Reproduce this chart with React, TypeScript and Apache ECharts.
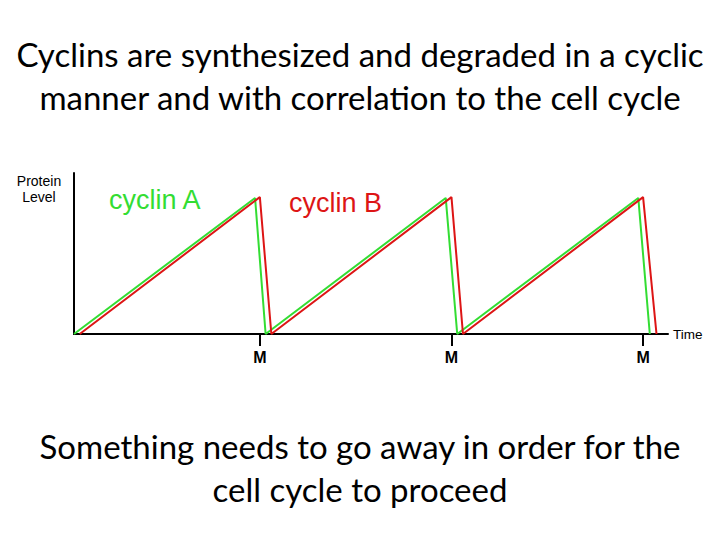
import React, { useEffect, useRef } from "react";
import * as echarts from "echarts";

// Time positions (arbitrary units, one cell cycle = 10) and protein levels
const cyclinATime = [0, 9.45, 10.0, 19.4, 20.0, 29.45, 30.05];
const cyclinALevel = [0, 8.45, 0, 8.45, 0, 8.45, 0];
const cyclinBTime = [0.3, 9.7, 10.3, 19.7, 20.3, 29.7, 30.4];
const cyclinBLevel = [0, 8.5, 0, 8.5, 0, 8.5, 0];
const mitosisTicks = [9.7, 19.7, 29.7];
const mitosisLabel = "M";

const titleLines = [
  "Cyclins are synthesized and degraded in a cyclic",
  "manner and with correlation to the cell cycle",
];
const footerLines = [
  "Something needs to go away in order for the",
  "cell cycle to proceed",
];

const GREEN = "#33dd33";
const RED = "#dd1515";
const SANS = "'Liberation Sans', Arial, sans-serif";
const SLIDE = "Lato, 'Open Sans', sans-serif";

export default function App() {
  const ref = useRef<HTMLDivElement>(null);

  useEffect(() => {
    document.body.style.margin = "0";
    if (!ref.current) return;
    const chart = echarts.init(ref.current, undefined, { renderer: "svg" });

    const pairs = (xs: number[], ys: number[]) => xs.map((x, i) => [x, ys[i]]);

    const slideText = (text: string, y: number) => ({
      type: "text",
      x: 360,
      y,
      style: {
        text,
        fill: "#000",
        font: `33px ${SLIDE}`,
        align: "center",
        verticalAlign: "middle",
      },
    });

    chart.setOption({
      animation: false,
      backgroundColor: "#fff",
      grid: { left: 74, right: 52, top: 173, bottom: 206, containLabel: false },
      xAxis: {
        type: "value",
        min: 0,
        max: 31,
        name: "Time",
        nameLocation: "end",
        nameGap: 5,
        nameTextStyle: { color: "#000", fontSize: 13.5, fontFamily: SANS },
        axisLine: { show: true, onZero: false, lineStyle: { color: "#000", width: 2 } },
        axisTick: {
          show: true,
          customValues: mitosisTicks,
          inside: false,
          length: 12,
          lineStyle: { color: "#000", width: 2 },
        },
        axisLabel: {
          show: true,
          customValues: mitosisTicks,
          formatter: () => `{m|${mitosisLabel}}`,
          rich: {
            m: {
              color: "#000",
              fontWeight: "bold",
              fontSize: 16,
              fontFamily: SANS,
            },
          },
          margin: 15,
        },
        splitLine: { show: false },
      },
      yAxis: {
        type: "value",
        min: 0,
        max: 10,
        axisLine: { show: true, onZero: false, lineStyle: { color: "#000", width: 2 } },
        axisTick: { show: false },
        axisLabel: { show: false },
        splitLine: { show: false },
      },
      series: [
        {
          name: "cyclin A",
          type: "line",
          data: pairs(cyclinATime, cyclinALevel),
          showSymbol: false,
          lineStyle: { color: GREEN, width: 2 },
          clip: false,
        },
        {
          name: "cyclin B",
          type: "line",
          data: pairs(cyclinBTime, cyclinBLevel),
          showSymbol: false,
          lineStyle: { color: RED, width: 2 },
          clip: false,
        },
      ],
      graphic: [
        slideText(titleLines[0], 54),
        slideText(titleLines[1], 97),
        slideText(footerLines[0], 446),
        slideText(footerLines[1], 489),
        {
          type: "text",
          x: 39,
          y: 181,
          style: { text: "Protein", fill: "#000", font: `14px ${SANS}`, align: "center", verticalAlign: "middle" },
        },
        {
          type: "text",
          x: 39,
          y: 197,
          style: { text: "Level", fill: "#000", font: `14px ${SANS}`, align: "center", verticalAlign: "middle" },
        },
        {
          type: "text",
          x: 109,
          y: 200,
          style: { text: "cyclin A", fill: GREEN, font: `27px ${SANS}`, align: "left", verticalAlign: "middle" },
        },
        {
          type: "text",
          x: 289,
          y: 203,
          style: { text: "cyclin B", fill: RED, font: `27px ${SANS}`, align: "left", verticalAlign: "middle" },
        },
      ],
    });

    return () => chart.dispose();
  }, []);

  return <div ref={ref} style={{ width: 720, height: 540 }} />;
}
